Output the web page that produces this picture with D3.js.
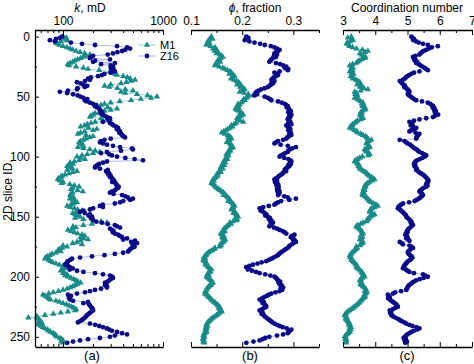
<!DOCTYPE html>
<html><head><meta charset="utf-8">
<script src="https://cdn.jsdelivr.net/npm/d3@7"></script>
<style>body{margin:0;background:#fff}svg{display:block;font-family:"Liberation Sans",Arial,sans-serif}</style>
</head><body><svg id="c" width="474" height="364"></svg>
<script>
const seriesNames = ["M1", "Z16"];
const panelLabels = ["(a)", "(b)", "(c)"];
const yTicks = [0, 50, 100, 150, 200, 250];
const yMinor = [25, 75, 125, 175, 225];
const kTicks = [100, 1000];
const kMinor = [60, 70, 80, 90, 200, 300, 400, 500, 600, 700, 800, 900];
const phiTicks = [0.1, 0.2, 0.3];
const phiMinor = [0.15, 0.25, 0.35];
const cnTicks = [3, 4, 5, 6, 7];
const cnMinor = [3.5, 4.5, 5.5, 6.5];

const kM1 = [100,108,104,110,95,85,88,92,100,110,
118,125,135,148,165,186,170,160,150,140,
132,125,118,112,115,135,160,178,230,295,
310,330,347,400,440,470,525,480,430,380,
300,260,290,350,420,500,380,420,550,700,
870,760,600,480,370,300,260,240,218,280,
347,300,260,230,210,200,190,186,240,295,
250,210,190,175,165,150,180,218,200,165,
150,141,170,200,185,170,160,150,145,150,
155,160,141,160,185,210,234,200,175,155,
138,150,166,145,130,118,126,115,110,118,
125,110,138,125,115,105,98,95,90,89,
93,100,97,117,130,145,125,120,140,158,
125,120,118,122,128,117,125,132,138,128,
120,110,118,130,140,155,135,125,132,140,
148,132,160,200,240,275,195,160,126,135,
125,112,120,130,140,155,165,150,160,178,
150,138,125,155,100,110,98,92,89,95,
85,78,74,70,67,66,72,75,79,85,
92,100,110,105,98,95,102,100,110,105,
112,120,128,135,141,150,140,132,125,118,
110,100,90,80,72,63,66,70,72,75,
85,92,100,108,115,122,128,135,132,112,
95,80,66,55,45,55,58,60,57,62,
57,60,63,66,70,72,75,80,83,85,
87,93,97,100,96,100];

const kZ16 = [98,93,85,74,83,120,155,209,347,437,
468,420,390,350,316,280,200,190,186,295,
210,200,330,240,300,316,300,320,310,330,
300,260,245,224,190,178,186,166,138,150,
160,175,165,140,138,112,93,110,126,140,
150,160,175,165,172,186,200,215,209,220,
230,234,240,245,238,251,262,275,295,280,
290,251,295,310,320,340,355,345,360,372,
365,380,390,400,417,300,260,240,234,251,
275,316,372,490,500,380,275,240,290,309,
347,420,520,631,275,251,230,220,212,209,
234,280,270,275,290,285,300,295,310,316,
325,310,335,340,347,360,355,340,330,310,
295,320,390,420,445,500,470,400,372,330,
250,234,251,200,186,160,148,165,186,180,
195,190,198,200,215,245,280,330,347,372,
295,309,320,315,330,355,370,390,437,400,
525,480,550,500,500,520,490,470,460,447,
400,330,260,195,148,123,118,112,110,108,
105,112,117,125,117,138,160,209,251,295,
310,316,300,290,280,263,270,263,275,275,
240,209,186,166,138,112,120,117,115,118,
126,178,160,182,186,190,195,198,200,192,
186,180,174,170,166,160,155,148,141,186,
209,230,251,275,290,309,347,390,437,330,
295,234,178,148,126,110];

const phiM1 = [0.140,0.138,0.142,0.135,0.133,0.136,0.131,0.130,0.138,0.147,
0.143,0.150,0.146,0.152,0.150,0.156,0.160,0.162,0.158,0.155,
0.152,0.157,0.150,0.148,0.147,0.155,0.162,0.166,0.171,0.176,
0.179,0.175,0.182,0.185,0.181,0.178,0.184,0.189,0.192,0.195,
0.190,0.198,0.196,0.202,0.205,0.200,0.195,0.204,0.212,0.221,
0.211,0.208,0.203,0.205,0.200,0.198,0.192,0.195,0.190,0.193,
0.187,0.189,0.194,0.198,0.196,0.202,0.198,0.194,0.190,0.192,
0.196,0.202,0.188,0.184,0.179,0.181,0.176,0.172,0.168,0.164,
0.160,0.166,0.172,0.176,0.173,0.179,0.175,0.172,0.170,0.176,
0.178,0.180,0.182,0.179,0.175,0.177,0.174,0.172,0.169,0.173,
0.170,0.168,0.171,0.166,0.164,0.167,0.162,0.165,0.160,0.158,
0.162,0.157,0.155,0.158,0.153,0.150,0.152,0.148,0.146,0.143,
0.145,0.141,0.140,0.143,0.146,0.148,0.150,0.154,0.157,0.160,
0.163,0.166,0.164,0.170,0.172,0.174,0.176,0.173,0.178,0.181,
0.183,0.185,0.182,0.180,0.179,0.184,0.186,0.183,0.188,0.190,
0.192,0.187,0.190,0.189,0.182,0.176,0.178,0.173,0.170,0.167,
0.165,0.163,0.166,0.162,0.158,0.160,0.164,0.161,0.163,0.167,
0.165,0.163,0.160,0.157,0.159,0.156,0.147,0.145,0.141,0.137,
0.134,0.131,0.129,0.127,0.125,0.128,0.124,0.126,0.129,0.131,
0.128,0.132,0.134,0.137,0.140,0.136,0.138,0.134,0.132,0.135,
0.130,0.133,0.136,0.139,0.141,0.143,0.140,0.138,0.135,0.133,
0.131,0.130,0.128,0.129,0.127,0.130,0.133,0.135,0.138,0.140,
0.142,0.145,0.148,0.151,0.153,0.156,0.154,0.157,0.159,0.160,
0.156,0.153,0.150,0.147,0.143,0.140,0.138,0.135,0.133,0.131,
0.130,0.132,0.129,0.131,0.128,0.130,0.130,0.127,0.125,0.124,
0.126,0.125,0.123,0.125,0.124,0.126];

const phiZ16 = [0.208,0.212,0.207,0.205,0.214,0.224,0.235,0.244,0.256,0.263,
0.268,0.273,0.270,0.266,0.263,0.268,0.262,0.266,0.260,0.257,
0.255,0.253,0.266,0.274,0.280,0.286,0.283,0.290,0.289,0.273,
0.263,0.268,0.270,0.266,0.262,0.259,0.257,0.263,0.258,0.260,
0.256,0.253,0.250,0.244,0.237,0.232,0.228,0.226,0.229,0.224,
0.244,0.250,0.254,0.257,0.270,0.277,0.283,0.286,0.289,0.287,
0.291,0.292,0.295,0.290,0.293,0.296,0.292,0.294,0.290,0.289,
0.292,0.294,0.290,0.296,0.286,0.289,0.291,0.294,0.290,0.293,
0.295,0.292,0.296,0.291,0.288,0.286,0.280,0.270,0.266,0.263,
0.275,0.289,0.305,0.298,0.293,0.290,0.289,0.284,0.280,0.276,
0.273,0.282,0.290,0.294,0.296,0.293,0.295,0.290,0.292,0.288,
0.285,0.283,0.286,0.281,0.279,0.276,0.272,0.270,0.266,0.263,
0.268,0.264,0.266,0.270,0.267,0.271,0.270,0.268,0.272,0.269,
0.273,0.271,0.270,0.282,0.289,0.305,0.292,0.276,0.270,0.266,
0.263,0.252,0.241,0.234,0.238,0.236,0.241,0.244,0.247,0.245,
0.250,0.254,0.252,0.257,0.255,0.260,0.257,0.255,0.253,0.262,
0.268,0.273,0.279,0.283,0.286,0.302,0.298,0.295,0.300,0.299,
0.303,0.305,0.300,0.297,0.293,0.291,0.289,0.285,0.282,0.278,
0.275,0.272,0.270,0.266,0.261,0.257,0.252,0.247,0.238,0.230,
0.221,0.214,0.208,0.213,0.211,0.219,0.227,0.234,0.245,0.255,
0.263,0.266,0.268,0.270,0.274,0.271,0.273,0.277,0.276,0.280,
0.275,0.278,0.273,0.265,0.257,0.252,0.248,0.243,0.239,0.234,
0.238,0.242,0.240,0.244,0.246,0.247,0.243,0.239,0.234,0.237,
0.240,0.238,0.242,0.244,0.247,0.250,0.253,0.256,0.259,0.263,
0.268,0.273,0.279,0.287,0.296,0.293,0.291,0.289,0.280,0.268,
0.253,0.245,0.240,0.234,0.222,0.208];

const cnM1 = [3.26,3.15,3.28,3.31,3.22,3.14,3.11,3.18,3.21,3.30,
3.42,3.60,3.77,3.68,3.52,3.58,3.63,3.70,3.67,3.58,
3.50,3.45,3.41,3.30,3.21,3.27,3.31,3.25,3.29,3.21,
3.26,3.33,3.28,3.24,3.30,3.31,3.40,3.46,3.52,3.48,
3.44,3.58,3.52,3.65,3.77,3.55,3.36,3.42,3.38,3.45,
3.40,3.36,3.44,3.50,3.55,3.62,3.58,3.64,3.60,3.66,
3.70,3.67,3.60,3.55,3.58,3.52,3.56,3.60,3.62,3.55,
3.45,3.40,3.36,3.30,3.28,3.23,3.21,3.30,3.36,3.42,
3.46,3.55,3.62,3.70,3.74,3.77,3.88,3.80,3.75,3.72,
3.78,3.80,3.83,3.75,3.67,3.70,3.74,3.80,3.83,3.78,
3.60,3.52,3.45,3.40,3.36,3.42,3.46,3.50,3.48,3.52,
3.52,3.58,3.64,3.70,3.74,3.77,3.82,3.88,3.93,3.98,
3.90,3.82,3.76,3.72,3.68,3.70,3.66,3.64,3.67,3.62,
3.65,3.60,3.62,3.68,3.72,3.76,3.80,3.83,3.88,3.95,
4.02,4.08,3.98,3.90,3.86,3.83,3.83,3.90,3.98,3.92,
3.86,3.80,3.77,3.74,3.72,3.62,3.55,3.46,3.41,3.45,
3.50,3.54,3.58,3.60,3.62,3.58,3.55,3.60,3.56,3.52,
3.58,3.62,3.60,3.55,3.52,3.41,3.44,3.40,3.36,3.32,
3.28,3.25,3.21,3.24,3.22,3.27,3.26,3.30,3.34,3.38,
3.40,3.44,3.42,3.46,3.50,3.54,3.58,3.60,3.64,3.62,
3.67,3.60,3.55,3.52,3.56,3.58,3.54,3.57,3.62,3.66,
3.70,3.72,3.68,3.74,3.70,3.66,3.68,3.67,3.62,3.58,
3.55,3.52,3.48,3.44,3.40,3.35,3.31,3.26,3.20,3.15,
3.10,3.08,3.05,3.09,3.12,3.08,3.11,3.15,3.18,3.21,
3.18,3.22,3.25,3.20,3.24,3.19,3.21,3.16,3.12,3.08,
3.05,3.09,3.07,3.11,3.08,3.10];

const cnZ16 = [5.12,5.15,5.20,5.18,5.27,5.35,5.48,5.63,5.94,5.75,
5.66,5.58,5.50,5.45,5.40,5.37,5.25,5.17,5.20,5.24,
5.22,5.30,5.27,5.35,5.40,5.46,5.53,5.58,5.63,5.37,
5.20,5.12,5.05,5.00,4.95,4.91,4.85,4.76,4.80,4.84,
4.88,4.92,4.90,4.96,5.00,5.04,5.06,5.02,5.01,5.05,
5.10,5.15,5.20,5.27,5.45,5.63,5.70,5.75,5.80,5.78,
5.84,5.82,5.88,5.85,5.89,5.95,5.85,5.79,5.58,5.37,
5.20,5.06,5.12,5.15,5.10,5.17,5.27,5.20,5.12,5.06,
5.25,5.37,5.33,5.30,5.28,5.27,4.76,4.90,4.96,5.00,
5.08,5.12,5.17,5.22,5.28,5.32,5.37,5.45,5.52,5.58,
5.53,5.46,5.38,5.30,5.25,5.22,5.20,5.24,5.22,5.26,
5.28,5.27,5.32,5.36,5.42,5.48,5.53,5.56,5.60,5.62,
5.65,5.63,5.60,5.58,5.62,5.58,5.50,5.45,5.40,5.37,
5.42,5.45,5.48,5.44,5.40,5.35,5.28,5.22,5.05,4.86,
4.80,4.75,4.72,4.70,4.76,4.80,4.85,4.88,4.92,4.95,
4.96,5.00,5.04,5.08,5.12,5.10,5.14,5.17,5.12,5.08,
5.04,5.01,4.98,5.00,4.96,4.93,4.98,5.00,4.96,5.02,
5.06,4.76,4.82,4.86,5.06,5.12,5.17,5.10,5.06,5.02,
5.01,5.04,5.08,5.12,5.15,5.12,5.08,5.02,4.98,4.96,
4.92,4.90,4.88,4.86,4.95,5.00,5.06,5.20,5.48,5.55,
5.63,5.50,5.38,5.27,5.20,5.15,5.10,5.05,5.02,5.00,
4.98,4.96,4.80,4.62,4.55,4.39,4.42,4.45,4.40,4.45,
4.50,4.55,4.60,4.65,4.68,4.70,4.62,4.55,4.45,4.48,
4.46,4.50,4.50,4.55,4.62,4.70,4.76,4.82,4.90,4.96,
5.05,5.15,5.28,5.37,5.30,5.20,5.12,5.06,5.00,4.95,
4.92,4.88,4.95,4.91,4.98,4.93];

const colM1 = "#178b88", colZ = "#0b0b8a";
const lineM1 = "#9ccfcc", lineZ = "#a9b3e3";

const svg = d3.select("#c");
const plotTop = 30, plotBottom = 347;
const y = d3.scaleLinear().domain([-5.5, 258.5]).range([plotTop, plotBottom]);

const panels = [
  {x: d3.scaleLog().domain([52.5, 1000]).range([35, 163]), m1: kM1, z: kZ16, major: kTicks, minor: kMinor, title: "k", label: panelLabels[0], lx: 92, tx: 90},
  {x: d3.scaleLinear().domain([0.1, 0.35]).range([191, 319]), m1: phiM1, z: phiZ16, major: phiTicks, minor: phiMinor, title: "phi", label: panelLabels[1], lx: 250, tx: 255},
  {x: d3.scaleLinear().domain([3, 7]).range([343, 472]), m1: cnM1, z: cnZ16, major: cnTicks, minor: cnMinor, title: "Coordination number", label: panelLabels[2], lx: 407, tx: 407}
];

function styleAxis(g) {
  g.selectAll("path.domain").attr("stroke", "#000").attr("stroke-width", 1.3);
  g.selectAll(".tick line").attr("stroke", "#000").attr("stroke-width", 1);
  g.selectAll(".tick text").attr("fill", "#000").attr("font-size", 12).attr("font-family", '"Liberation Sans",Arial,sans-serif');
}

const marksLayer = svg.append("g");
const axisLayer = svg.append("g");
const textLayer = svg.append("g").attr("font-family", '"Liberation Sans",Arial,sans-serif').attr("fill", "#000");

panels.forEach(p => {
  const series = [
    {vals: p.m1, col: colM1, lc: lineM1, tri: true},
    {vals: p.z, col: colZ, lc: lineZ, tri: false}
  ];
  const line = d3.line().x(d => p.x(d.v)).y(d => y(d.s));
  series.forEach(s => {
    const pts = s.vals.map((v, i) => ({s: i, v}));
    marksLayer.append("path").datum(pts).attr("d", line).attr("fill", "none")
      .attr("stroke", s.lc).attr("stroke-width", 0.9);
  });
  series.forEach(s => {
    const pts = s.vals.map((v, i) => ({s: i, v}));
    const sym = d3.symbol().type(s.tri ? d3.symbolTriangle : d3.symbolCircle).size(s.tri ? 17 : 18);
    marksLayer.append("g").selectAll("path").data(pts).join("path")
      .attr("d", sym)
      .attr("transform", d => `translate(${p.x(d.v)},${y(d.s)})`)
      .attr("fill", s.col);
  });

  const topG = axisLayer.append("g").attr("transform", `translate(0,${plotTop})`);
  topG.call(d3.axisTop(p.x).tickValues(p.major).tickFormat(d => String(d)).tickSize(-5).tickSizeOuter(0).tickPadding(5));
  styleAxis(topG);
  const topMinor = axisLayer.append("g").attr("transform", `translate(0,${plotTop})`);
  topMinor.call(d3.axisTop(p.x).tickValues(p.minor).tickFormat("").tickSize(-3).tickSizeOuter(0));
  styleAxis(topMinor);
  topMinor.select("path.domain").remove();

  const botG = axisLayer.append("g").attr("transform", `translate(0,${plotBottom})`);
  botG.call(d3.axisBottom(p.x).tickValues(p.major).tickFormat("").tickSize(-5).tickSizeOuter(0));
  styleAxis(botG);
  const botMinor = axisLayer.append("g").attr("transform", `translate(0,${plotBottom})`);
  botMinor.call(d3.axisBottom(p.x).tickValues(p.minor).tickFormat("").tickSize(-3).tickSizeOuter(0));
  styleAxis(botMinor);
  botMinor.select("path.domain").remove();

  textLayer.append("g").attr("transform", `translate(${p.lx},360)`)
    .append("text").attr("text-anchor", "middle").attr("font-size", 13).text(p.label);

  const t = textLayer.append("g").attr("transform", `translate(${p.tx},12)`)
    .append("text").attr("text-anchor", "middle").attr("font-size", 12);
  if (p.title === "k") {
    t.append("tspan").attr("font-style", "italic").text("k");
    t.append("tspan").text(", mD");
  } else if (p.title === "phi") {
    t.append("tspan").attr("font-style", "italic").text("ϕ");
    t.append("tspan").text(", fraction");
  } else {
    t.text(p.title);
  }
});

// left y axis
const leftG = axisLayer.append("g").attr("transform", "translate(35,0)");
leftG.call(d3.axisLeft(y).tickValues(yTicks).tickSize(-4).tickSizeOuter(0).tickPadding(5));
styleAxis(leftG);
leftG.select("path.domain").attr("d", `M0.5,${plotTop}V${plotBottom}`);
const leftMinor = axisLayer.append("g").attr("transform", "translate(35,0)");
leftMinor.call(d3.axisLeft(y).tickValues(yMinor).tickFormat("").tickSize(-2).tickSizeOuter(0));
styleAxis(leftMinor);
leftMinor.select("path.domain").remove();

textLayer.append("g").attr("transform", "translate(12,190)")
  .append("text").attr("transform", "rotate(-90)")
  .attr("text-anchor", "middle").attr("font-size", 12).text("2D slice ID.");

// legend
const legend = [
  {name: seriesNames[0], col: colM1, lc: lineM1, tri: true, y: 45},
  {name: seriesNames[1], col: colZ, lc: lineZ, tri: false, y: 56}
];
legend.forEach(l => {
  textLayer.append("line").attr("x1", 138).attr("x2", 156).attr("y1", l.y).attr("y2", l.y)
    .attr("stroke", l.lc).attr("stroke-width", 1);
  textLayer.append("path").attr("d", d3.symbol().type(l.tri ? d3.symbolTriangle : d3.symbolCircle).size(l.tri ? 17 : 18))
    .attr("transform", `translate(147,${l.y})`).attr("fill", l.col);
  textLayer.append("text").attr("x", 160).attr("y", l.y + 4).attr("font-size", 11).text(l.name);
});
</script>
</body></html>
